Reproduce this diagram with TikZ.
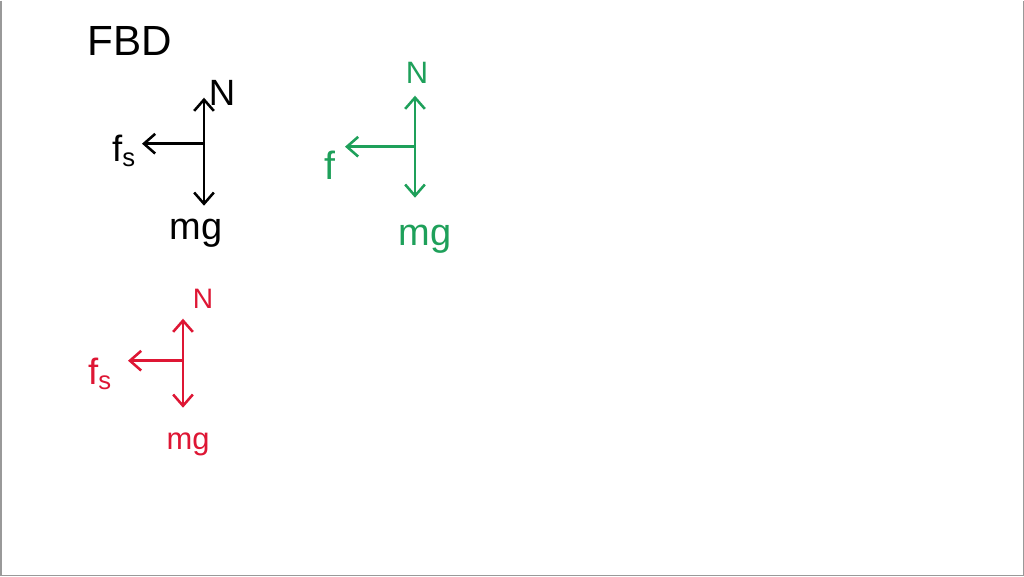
\documentclass[tikz,border=0pt]{standalone}
\usepackage{fontspec}
\setmainfont{Liberation Sans}
\usetikzlibrary{arrows.meta}
\definecolor{greenink}{RGB}{30,160,90}
\definecolor{redink}{RGB}{222,22,52}
\tikzset{
  force/.style={line width=1.8pt,-{Straight Barb[length=8pt,width=14pt,line width=1.8pt]}},
  lbl/.style={inner sep=0pt},
}
\begin{document}
\begin{tikzpicture}

% The page
\fill[white] (0,0) rectangle (25.6,14.4);
\draw[color=gray!80,line width=1pt] (0.02,14.4) -- (0.02,0.03) -- (25.58,0.03) -- (25.58,14.4);
\useasboundingbox (0,0) rectangle (25.6,14.4);

% The title
\node[lbl] (title) at (3.25,13.4) {\fontsize{30}{30}\selectfont FBD};

% The first diagram
\coordinate (bc) at (5.1,10.825);
\coordinate (bup) at (5.1,11.975);
\coordinate (bdown) at (5.1,9.275);
\coordinate (bleft) at (3.55,10.825);
\draw[force] (bc) -- (bup);
\draw[force] (bc) -- (bdown);
\draw[force] (bc) -- (bleft);

% The first labels
\node[lbl] (bN) at (5.55,12.1) {\fontsize{26}{26}\selectfont N};
\node[lbl] (bf) at (3.1,10.65) {\fontsize{26}{26}\selectfont f\textsubscript{s}};
\node[lbl] (bmg) at (4.9,8.575) {\fontsize{27}{27}\selectfont mg};

% The second diagram
\coordinate (gc) at (10.375,10.75);
\coordinate (gup) at (10.375,12.025);
\coordinate (gdown) at (10.375,9.475);
\coordinate (gleft) at (8.625,10.75);
\draw[force,color=greenink] (gc) -- (gup);
\draw[force,color=greenink] (gc) -- (gdown);
\draw[force,color=greenink] (gc) -- (gleft);

% The second labels
\node[lbl,color=greenink] (gN) at (10.425,12.6) {\fontsize{22}{22}\selectfont N};
\node[lbl,color=greenink] (gf) at (8.25,10.275) {\fontsize{28}{28}\selectfont f};
\node[lbl,color=greenink] (gmg) at (10.625,8.425) {\fontsize{27}{27}\selectfont mg};

% The third diagram
\coordinate (rc) at (4.575,5.4);
\coordinate (rup) at (4.575,6.45);
\coordinate (rdown) at (4.575,4.225);
\coordinate (rleft) at (3.2,5.4);
\draw[force,color=redink] (rc) -- (rup);
\draw[force,color=redink] (rc) -- (rdown);
\draw[force,color=redink] (rc) -- (rleft);

% The third labels
\node[lbl,color=redink] (rN) at (5.075,6.95) {\fontsize{20}{20}\selectfont N};
\node[lbl,color=redink] (rf) at (2.5,5.075) {\fontsize{26}{26}\selectfont f\textsubscript{s}};
\node[lbl,color=redink] (rmg) at (4.7,3.3) {\fontsize{22}{22}\selectfont mg};

\end{tikzpicture}
\end{document}
